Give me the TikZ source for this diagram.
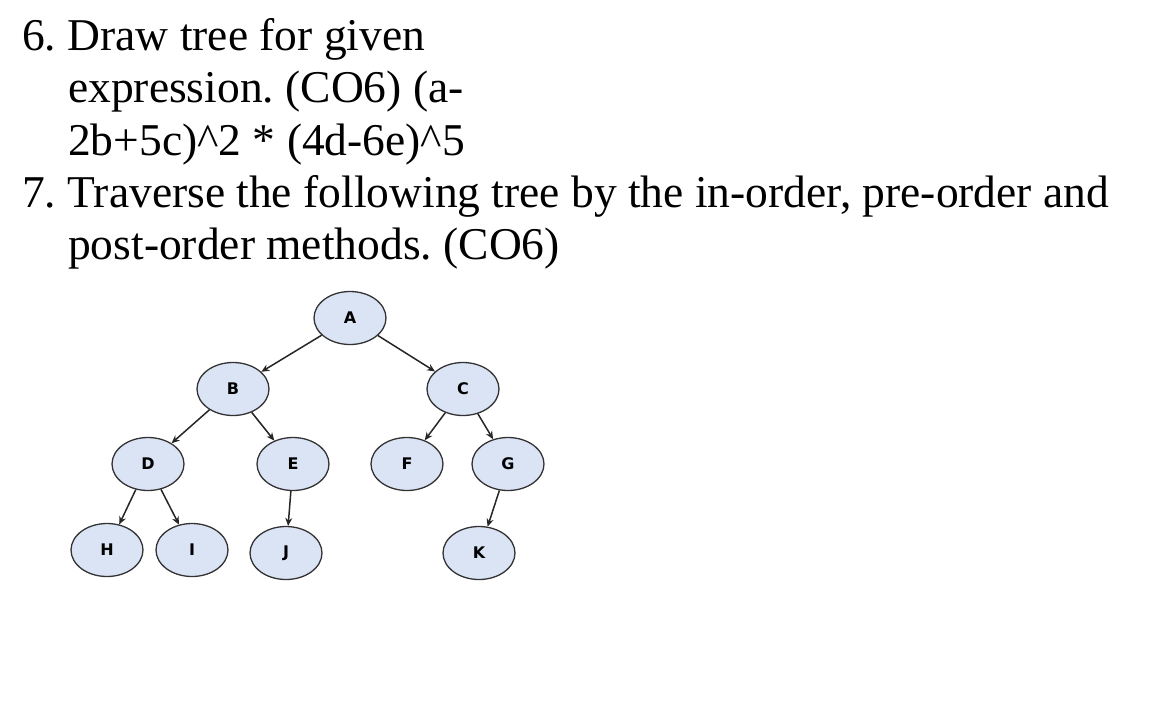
\documentclass[tikz,border=0pt]{standalone}
\usetikzlibrary{shapes.geometric,arrows.meta}
\usepackage{fontspec}
\setmainfont{Liberation Serif}
\newfontfamily\nodefont{DejaVu Sans}
\definecolor{nodefill}{RGB}{219,228,245}
\begin{document}
\frenchspacing
\begin{tikzpicture}[x=1pt,y=-1pt,
  tnode/.style={ellipse,draw=black!80,line width=1.3pt,fill=nodefill,minimum width=72pt,minimum height=53pt,inner sep=0pt,font=\nodefont\bfseries\fontsize{16}{16}\selectfont},
  edge/.style={draw=black!85,line width=1.5pt,-{Stealth[length=8pt,width=7pt]}},
  txt/.style={anchor=base west,inner sep=0pt,font=\fontsize{45.5}{45.5}\selectfont}]
\useasboundingbox (0,0) rectangle (1170,724);
\node[txt] (l1) at (22,50) {6. Draw tree for given};
\node[txt] (l2) at (68,102) {expression. (CO6) (a-};
\node[txt] (l3) at (68,155) {2b+5c)\^{}2 * (4d-6e)\^{}5};
\node[txt] (l4) at (22,207) {7. Traverse the following tree by the in-order, pre-order and};
\node[txt] (l5) at (68,259) {post-order methods. (CO6)};
\node[tnode] (A) at (350,318) {A};
\node[tnode] (B) at (233,389) {B};
\node[tnode] (C) at (463,389) {C};
\node[tnode] (D) at (148,464) {D};
\node[tnode] (E) at (293,464) {E};
\node[tnode] (F) at (407,464) {F};
\node[tnode] (G) at (508,464) {G};
\node[tnode] (H) at (107,550) {H};
\node[tnode] (I) at (192,550) {I};
\node[tnode] (J) at (286,553) {J};
\node[tnode] (K) at (479,553) {K};
\foreach \a/\b in {A/B,A/C,B/D,B/E,C/F,C/G,D/H,D/I,E/J,G/K}
  \draw[edge] (\a) -- (\b);
\end{tikzpicture}
\end{document}
